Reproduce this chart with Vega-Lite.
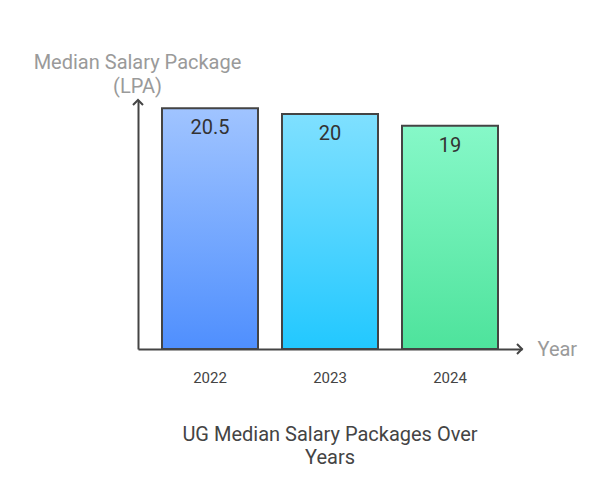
{
  "$schema": "https://vega.github.io/schema/vega-lite/v6.json",
  "width": 384,
  "height": 249,
  "autosize": {"type": "none"},
  "padding": {"left": 138, "top": 100, "right": 86, "bottom": 145},
  "background": "white",
  "config": {"font": "Roboto", "view": {"stroke": null}},
  "title": {
    "text": ["UG Median Salary Packages Over", "Years"],
    "orient": "bottom",
    "anchor": "middle",
    "fontSize": 20,
    "fontWeight": "normal",
    "color": "#444444",
    "lineHeight": 23,
    "offset": 40
  },
  "data": {
    "values": [
      {"Year": "2022", "Salary": 20.5},
      {"Year": "2023", "Salary": 20},
      {"Year": "2024", "Salary": 19}
    ]
  },
  "encoding": {
    "x": {
      "field": "Year",
      "type": "nominal",
      "scale": {"paddingInner": 0.2, "paddingOuter": 0.2},
      "axis": {
        "title": "Year",
        "titleX": 399,
        "titleY": 0,
        "titleAlign": "left",
        "titleBaseline": "middle",
        "titleAnchor": null,
        "titleFontSize": 20,
        "titleFontWeight": "normal",
        "titleColor": "#9a9a9a",
        "labelAngle": 0,
        "labelFontSize": 15,
        "labelColor": "#444444",
        "labelPadding": 21,
        "ticks": false,
        "domainColor": "#444444",
        "domainWidth": 2
      }
    },
    "y": {
      "field": "Salary",
      "type": "quantitative",
      "scale": {"domain": [0, 21.2], "nice": false, "zero": true},
      "axis": {
        "title": ["Median Salary Package", "(LPA)"],
        "titleAngle": 0,
        "titleX": -1,
        "titleY": -32,
        "titleAlign": "center",
        "titleBaseline": "alphabetic",
        "titleAnchor": null,
        "titleLineHeight": 24,
        "titleFontSize": 20,
        "titleFontWeight": "normal",
        "titleColor": "#9a9a9a",
        "labels": false,
        "ticks": false,
        "grid": false,
        "domainColor": "#444444",
        "domainWidth": 2
      }
    }
  },
  "layer": [
    {
      "transform": [{"filter": "datum.Year === '2022'"}],
      "mark": {
        "type": "bar",
        "stroke": "#444444",
        "strokeWidth": 2,
        "color": {
          "gradient": "linear", "x1": 0, "y1": 0, "x2": 0, "y2": 1,
          "stops": [{"offset": 0, "color": "#a0c4ff"}, {"offset": 1, "color": "#4f8ffe"}]
        }
      }
    },
    {
      "transform": [{"filter": "datum.Year === '2023'"}],
      "mark": {
        "type": "bar",
        "stroke": "#444444",
        "strokeWidth": 2,
        "color": {
          "gradient": "linear", "x1": 0, "y1": 0, "x2": 0, "y2": 1,
          "stops": [{"offset": 0, "color": "#7fe0ff"}, {"offset": 1, "color": "#22c8ff"}]
        }
      }
    },
    {
      "transform": [{"filter": "datum.Year === '2024'"}],
      "mark": {
        "type": "bar",
        "stroke": "#444444",
        "strokeWidth": 2,
        "color": {
          "gradient": "linear", "x1": 0, "y1": 0, "x2": 0, "y2": 1,
          "stops": [{"offset": 0, "color": "#86f8c8"}, {"offset": 1, "color": "#4ee39c"}]
        }
      }
    },
    {
      "mark": {"type": "text", "dy": 20, "baseline": "middle", "fontSize": 20, "color": "#333333"},
      "encoding": {"text": {"field": "Salary", "type": "quantitative"}}
    },
    {
      "data": {"values": [{"axis": "y"}]},
      "mark": {
        "type": "point",
        "shape": "M -1 1 L 0 0 L 1 1",
        "size": 100,
        "filled": false,
        "stroke": "#444444",
        "strokeWidth": 2,
        "opacity": 1
      },
      "encoding": {"x": {"value": 0}, "y": {"value": 0}}
    },
    {
      "data": {"values": [{"axis": "x"}]},
      "mark": {
        "type": "point",
        "shape": "M -1 -1 L 0 0 L -1 1",
        "size": 100,
        "filled": false,
        "stroke": "#444444",
        "strokeWidth": 2,
        "opacity": 1
      },
      "encoding": {"x": {"value": "width"}, "y": {"value": "height"}}
    }
  ]
}
